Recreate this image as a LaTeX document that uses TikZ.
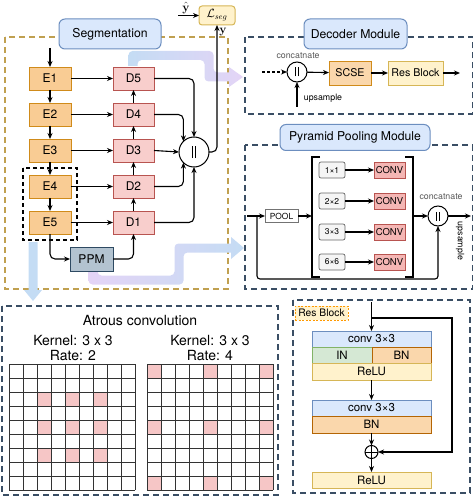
\documentclass[tikz,border=0pt]{standalone}
\usepackage[no-math]{fontspec}
\setmainfont{TeX Gyre Heros}
\usetikzlibrary{positioning,arrows.meta}

\definecolor{encfill}{HTML}{F9CC94}
\definecolor{encline}{HTML}{D08B1A}
\definecolor{decfill}{HTML}{F8CECC}
\definecolor{decline}{HTML}{B85450}
\definecolor{ppmfill}{HTML}{B3C3D0}
\definecolor{ppmline}{HTML}{2E4A62}
\definecolor{labfill}{HTML}{DAE8FC}
\definecolor{labline}{HTML}{6C8EBF}
\definecolor{yelfill}{HTML}{FFF2CC}
\definecolor{yelline}{HTML}{D6B656}
\definecolor{grnfill}{HTML}{D5E8D4}
\definecolor{grnline}{HTML}{82B366}
\definecolor{orgfill}{HTML}{FAD7AC}
\definecolor{orgline}{HTML}{B46504}
\definecolor{convfill}{HTML}{F4B6B4}
\definecolor{segline}{HTML}{C0A050}
\definecolor{modline}{HTML}{3A4E64}
\definecolor{flowblue}{HTML}{C4DCF4}
\definecolor{flowlav}{HTML}{E4D4F6}
\definecolor{cellfill}{HTML}{F6C6C6}

\newcommand{\catbars}[1]{\rule{1.1pt}{#1}\hspace{2.6pt}\rule{1.1pt}{#1}}

\begin{document}
\begin{tikzpicture}[x=1pt,y=-1pt,
  >={Stealth[length=6pt,width=5pt]},
  every node/.style={inner sep=0pt,outer sep=0pt},
  ebox/.style={rectangle,draw=encline,fill=encfill,line width=0.9pt,
    minimum width=42pt,minimum height=23pt,font=\fontsize{12}{12}\selectfont},
  dbox/.style={ebox,draw=decline,fill=decfill,minimum width=41pt},
  lbox/.style={rectangle,rounded corners=6pt,draw=labline,fill=labfill,
    line width=1pt,minimum height=30pt,font=\fontsize{12.2}{12}\selectfont},
  ccirc/.style={circle,draw,fill=white,line width=1pt},
  conn/.style={->,line width=1.1pt,rounded corners=5pt},
  segframe/.style={draw=segline,line width=1.3pt,dash pattern=on 6pt off 4pt},
  modframe/.style={draw=modline,line width=1.6pt,dash pattern=on 6pt off 4pt},
  sbox/.style={rectangle,rounded corners=2pt,draw=black!60,fill=black!4,
    line width=0.7pt,minimum width=26pt,minimum height=16pt,font=\fontsize{8.5}{8.5}\selectfont},
  cbox/.style={rectangle,draw=decline,fill=convfill,line width=0.8pt,
    minimum width=31pt,minimum height=16pt,font=\fontsize{9.5}{9.5}\selectfont},
  rbox/.style={rectangle,line width=0.9pt,minimum height=16pt,font=\fontsize{11.5}{11.5}\selectfont},
  small/.style={font=\fontsize{8.8}{8.8}\selectfont},
  big/.style={font=\fontsize{14}{14}\selectfont},
  mathlab/.style={font=\fontsize{12}{12}\selectfont},
  gridline/.style={draw=black!80,line width=0.9pt}]
\useasboundingbox (0,0) rectangle (474,497);

% frames
\draw[segframe] (5,37) rectangle (228,289);
\draw[modframe] (245,37) rectangle (472.5,114);
\draw[modframe] (245,145) rectangle (472.5,289);
\draw[modframe] (2,306) rectangle (278,495);
\draw[modframe] (293,300) rectangle (470,493);
\draw[line width=1.2pt,dash pattern=on 4pt off 3pt] (23,168) rectangle (77,240);

% wide flow arrows
\begin{scope}
  \clip (128.5,66) [rounded corners=4pt] -- (128.5,51) -- (213.5,51) -- (213.5,72.5)
    [sharp corners] -- (229,72.5) -- (229,67) -- (243,77) -- (229,87) -- (229,81.5)
    [rounded corners=4pt] -- (204.5,81.5) -- (204.5,60) -- (137.5,60) [sharp corners] -- (137.5,66) -- cycle;
  \shade[left color=flowblue,right color=flowlav] (128,50) rectangle (244,88);
\end{scope}
\begin{scope}
  \clip (88.5,271) [rounded corners=4pt] -- (88.5,284.5) -- (183.5,284.5) -- (183.5,252.5)
    [sharp corners] -- (231,252.5) -- (231,259) -- (244,248) -- (231,237) -- (231,243.5)
    [rounded corners=4pt] -- (174.5,243.5) -- (174.5,275.5) -- (97.5,275.5) [sharp corners] -- (97.5,271) -- cycle;
  \shade[left color=flowlav,right color=flowblue] (88,236) rectangle (245,286);
\end{scope}
\fill[flowblue] (28.5,242) -- (28.5,290) -- (24,290) -- (33,301) -- (42,290) -- (37.5,290) -- (37.5,242) -- cycle;

% segmentation
\node[lbox,minimum width=102pt] (seg) at (110,34) {Segmentation};
\node[ebox] (e1) at (50,78.5) {E1};
\node[ebox,below=13pt of e1] (e2) {E2};
\node[ebox,below=13pt of e2] (e3) {E3};
\node[ebox,below=13pt of e3] (e4) {E4};
\node[ebox,below=13pt of e4] (e5) {E5};
\node[dbox,right=42pt of e1] (d5) {D5};
\node[dbox,right=42pt of e2] (d4) {D4};
\node[dbox,right=42pt of e3] (d3) {D3};
\node[dbox,right=42pt of e4] (d2) {D2};
\node[dbox,right=42pt of e5] (d1) {D1};
\node[rectangle,draw=ppmline,fill=ppmfill,line width=0.9pt,minimum width=43pt,
  minimum height=24pt,font=\fontsize{12}{12}\selectfont] (ppm) at (91.5,259) {PPM};
\node[ccirc,minimum size=30pt] (cat) at (194,152) {\catbars{12pt}};
\node[rectangle,rounded corners=3pt,draw=yelline,fill=yelfill,line width=1pt,
  minimum width=36pt,minimum height=19pt,mathlab] (loss) at (217,15.5) {$\mathcal{L}_{seg}$};
\node[mathlab] (yhat) at (186,8) {$\hat{\mathbf{y}}$};
\node[mathlab] (ylab) at (223,32) {$\mathbf{y}$};
\coordinate (segin) at (50,48);
\coordinate (yin) at (178,15.5);

\draw[conn] (segin) -- (e1);
\foreach \a/\b in {e1/e2,e2/e3,e3/e4,e4/e5,d1/d2,d2/d3,d3/d4,d4/d5,
                   e1/d5,e2/d4,e3/d3,e4/d2,e5/d1}
  \draw[conn] (\a) -- (\b);
\draw[conn] (e5.south) |- (ppm.west);
\draw[conn] (ppm.east) -| (d1.south);
\draw[conn] (d5.east) -| (cat.north);
\draw[conn] (d4.east) -| (cat.north west);
\draw[conn] (d3.east) -- (cat.west);
\draw[conn] (d2.east) -| (cat.south west);
\draw[conn] (d1.east) -| (cat.south);
\draw[conn] (cat.east) -| (loss.south);
\draw[conn] (yin) -- (loss.west);

% decoder module
\node[lbox,minimum width=103pt] (dmod) at (355.5,34) {Decoder Module};
\node[ccirc,minimum size=20pt] (cat2) at (297,72) {\catbars{9pt}};
\node[rectangle,draw=encline,fill=orgfill,line width=0.9pt,minimum width=42pt,
  minimum height=24pt,font=\fontsize{10.7}{10.7}\selectfont] (scse) at (350,73) {SCSE};
\node[rectangle,draw=yelline,fill=yelfill,line width=0.9pt,minimum width=55pt,
  minimum height=24pt,font=\fontsize{10.7}{10.7}\selectfont] (resb) at (415.5,73) {Res Block};
\node[small,text=black!65] (cattxt) at (298,56) {concatnate};
\node[small] (uptxt) at (323,98) {upsample};
\coordinate (din) at (262,72);
\coordinate (dout) at (460,73);
\coordinate (dup) at (297,107);
\draw[conn,dash pattern=on 3pt off 2pt] (din) -- (cat2);
\draw[conn] (cat2) -- (scse);
\draw[conn] (scse) -- (resb);
\draw[conn] (resb) -- (dout);
\draw[conn] (dup) -- (cat2);

% pyramid pooling module
\node[lbox,minimum width=150pt,minimum height=26pt] (pmod) at (355,137.5) {Pyramid Pooling Module};
\node[rectangle,draw=black!55,fill=white,line width=0.8pt,minimum width=33pt,
  minimum height=13pt,font=\fontsize{8.4}{8.4}\selectfont] (pool) at (281.5,216) {POOL};
\node[sbox] (s1) at (332,170) {1×1};
\node[sbox] (s2) at (332,201) {2×2};
\node[sbox] (s3) at (332,232) {3×3};
\node[sbox] (s4) at (332,262) {6×6};
\foreach \k in {1,...,4}
  \node[cbox,right=29pt of s\k] (c\k) {CONV};
\node[ccirc,minimum size=20pt] (cat3) at (438,216) {\catbars{9pt}};
\node[small,text=black!65] (cattxt2) at (441,197) {concatnate};
\node[small,rotate=-90] (uptxt2) at (460,241) {upsample};
\draw[line width=1.2pt] (320,157) -| (312,277) -- (320,277);
\draw[line width=1.2pt] (405,157) -| (413,277) -- (405,277);
\coordinate (pin) at (247,216);
\coordinate (pbr) at (257,216);
\coordinate (bl) at (312,216);
\coordinate (br) at (413,216);
\coordinate (pout) at (471,216);
\draw[conn] (pin) -- (pool);
\draw[conn] (pool) -- (bl);
\foreach \k in {1,...,4}
  \draw[conn] (s\k) -- (c\k);
\draw[conn] (br) -- (cat3);
\draw[conn] (cat3) -- (pout);
\draw[conn,rounded corners=3pt] (pbr) -- (257,279) -| (cat3.south);

% atrous convolution
\node[big] (atr) at (140,320) {Atrous convolution};
\node[big] (k2) at (73,340) {Kernel: 3 x 3};
\node[big] (r2) at (73,355) {Rate: 2};
\node[big] (k4) at (210,340) {Kernel: 3 x 3};
\node[big] (r4) at (210,355) {Rate: 4};
\foreach \i in {2,4,6} \foreach \j in {2,4,6}
  \fill[cellfill] (9+14*\i,364+14*\j) rectangle ++(14,14);
\foreach \i in {0,4,8} \foreach \j in {0,4,8}
  \fill[cellfill] (147+14*\i,364+14*\j) rectangle ++(14,14);
\foreach \k in {0,...,9} {
  \draw[gridline] (9+14*\k,364) -- ++(0,126);
  \draw[gridline] (9,364+14*\k) -- ++(126,0);
  \draw[gridline] (147+14*\k,364) -- ++(0,126);
  \draw[gridline] (147,364+14*\k) -- ++(126,0);
}

% res block
\node[rectangle,draw=orange!80!yellow,fill=yelfill,line width=0.8pt,dash pattern=on 2pt off 1.5pt,
  minimum width=53pt,minimum height=14pt,font=\fontsize{10.3}{10.3}\selectfont] (rbl) at (321.5,313) {Res Block};
\node[rbox,draw=labline,fill=labfill,minimum width=119pt] (conv1) at (371.5,339) {conv 3×3};
\node[rbox,draw=grnline,fill=grnfill,minimum width=60pt] (in1) at (342,355) {IN};
\node[rbox,draw=orgline,fill=orgfill,minimum width=59pt] (bn1) at (401.5,355) {BN};
\node[rbox,draw=yelline,fill=yelfill,minimum width=119pt,minimum height=17pt] (relu1) at (371.5,371.5) {ReLU};
\node[rbox,draw=labline,fill=labfill,minimum width=119pt] (conv2) at (371.5,408) {conv 3×3};
\node[rbox,draw=orgline,fill=orgfill,minimum width=119pt,minimum height=17pt] (bn2) at (371.5,424.5) {BN};
\node[circle,draw,line width=1pt,minimum size=13pt] (plus) at (371.5,452) {};
\draw[line width=1pt] (plus.north) -- (plus.south) (plus.west) -- (plus.east);
\node[rbox,draw=yelline,fill=yelfill,minimum width=119pt] (relu2) at (371.5,480) {ReLU};
\coordinate (rin) at (371.5,302);
\coordinate (rsk) at (371.5,318);
\draw[conn] (rin) -- (conv1);
\draw[conn] (relu1) -- (conv2);
\draw[conn] (bn2) -- (plus);
\draw[conn] (plus) -- (relu2);
\draw[conn,rounded corners=0pt] (rsk) -- (452,318) |- (plus.east);
\end{tikzpicture}
\end{document}
